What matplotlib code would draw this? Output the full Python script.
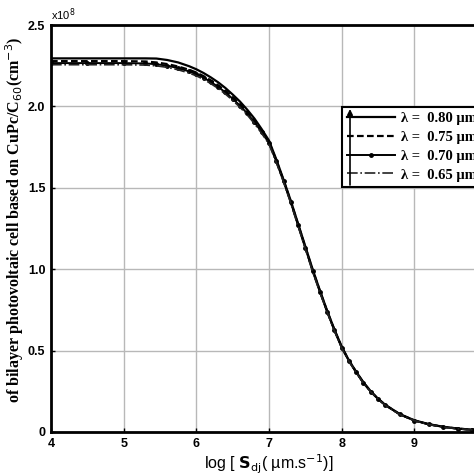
import matplotlib
matplotlib.use("Agg")
import matplotlib.pyplot as plt

# log S_dj values
x_vals = [4.0, 4.5, 5.0, 5.3, 5.45, 5.6, 5.75, 5.9,
          6.0, 6.1, 6.2, 6.3, 6.4, 6.5, 6.6, 6.7, 6.8, 6.9, 7.0, 7.1, 7.2, 7.3, 7.4,
          7.5, 7.6, 7.7, 7.8, 7.9, 8.0, 8.1, 8.2, 8.3, 8.4, 8.5, 8.6,
          8.8, 9.0, 9.2, 9.4, 9.6, 9.8, 10.0]
# generation rate (x1e8 cm^-3)
g_080 = [2.295, 2.295, 2.295, 2.295, 2.294, 2.285, 2.27, 2.247,
         2.228, 2.205, 2.178, 2.148, 2.113, 2.073, 2.03, 1.98, 1.925, 1.86, 1.79, 1.675, 1.55,
         1.42, 1.28, 1.14, 1.00, 0.87, 0.745, 0.63, 0.525, 0.44, 0.37, 0.305, 0.25, 0.205, 0.167,
         0.11, 0.072, 0.048, 0.032, 0.021, 0.014, 0.009]
g_075 = [2.278, 2.278, 2.278, 2.276, 2.27, 2.26, 2.245, 2.225,
         2.208, 2.186, 2.16, 2.13, 2.096, 2.057, 2.015, 1.966, 1.912, 1.85, 1.782, 1.668, 1.545,
         1.415, 1.275, 1.135, 0.995, 0.866, 0.742, 0.627, 0.522, 0.438, 0.368, 0.303, 0.249, 0.204, 0.166,
         0.109, 0.071, 0.047, 0.031, 0.021, 0.014, 0.009]
g_070 = [2.266, 2.266, 2.266, 2.264, 2.259, 2.25, 2.235, 2.215,
         2.198, 2.176, 2.15, 2.12, 2.086, 2.047, 2.005, 1.957, 1.903, 1.842, 1.775, 1.662, 1.54,
         1.41, 1.27, 1.13, 0.99, 0.862, 0.739, 0.624, 0.519, 0.436, 0.366, 0.301, 0.248, 0.203, 0.165,
         0.108, 0.070, 0.047, 0.031, 0.020, 0.013, 0.009]
g_065 = [2.256, 2.256, 2.256, 2.254, 2.249, 2.24, 2.225, 2.205,
         2.188, 2.166, 2.14, 2.11, 2.076, 2.037, 1.995, 1.948, 1.894, 1.834, 1.768, 1.656, 1.535,
         1.405, 1.265, 1.125, 0.985, 0.858, 0.736, 0.621, 0.516, 0.434, 0.364, 0.299, 0.247, 0.202, 0.164,
         0.107, 0.070, 0.046, 0.030, 0.020, 0.013, 0.009]
labels = ["λ =  0.80 µm", "λ =  0.75 µm", "λ =  0.70 µm", "λ =  0.65 µm"]
x_ticks = [4, 5, 6, 7, 8, 9]
y_ticks = [0, 0.5, 1.0, 1.5, 2.0, 2.5]
y_ticklabels = ["0", "0.5", "1.0", "1.5", "2.0", "2.5"]

fig = plt.figure(figsize=(4.74, 4.74), dpi=100)
ax = fig.add_axes([51/474, 42/474, 436/474, 407/474])

ax.plot(x_vals, g_080, color="black", lw=1.6, ls="-", label=labels[0])
ax.plot(x_vals, g_075, color="black", lw=1.6, ls=(0, (3, 1.5)), label=labels[1])
ax.plot(x_vals, g_070, color="black", lw=1.4, ls="-", marker="o", ms=2.5, label=labels[2])
ax.plot(x_vals, g_065, color="#222222", lw=1.2, ls="-.", label=labels[3])

ax.set_xlim(4, 10)
ax.set_ylim(0, 2.5)
ax.set_xticks(x_ticks + [10])
ax.set_xticklabels([str(t) for t in x_ticks] + [""])
ax.set_yticks(y_ticks)
ax.set_yticklabels(y_ticklabels)
ax.grid(True, color="#b8b8b8", lw=1.0)
ax.set_axisbelow(True)
for sp in ax.spines.values():
    sp.set_linewidth(2.0)
ax.tick_params(direction="in", length=3, width=1, pad=4)
for lab in ax.get_xticklabels() + ax.get_yticklabels():
    lab.set_fontfamily("Liberation Sans")
    lab.set_fontweight("bold")
    lab.set_fontsize(9)

fig.text(51/474, 1 - 15/474, r"x10$^{8}$", fontsize=8, family="Liberation Sans",
         ha="left", va="center")

ax.set_xlabel(r"log [ $\mathbf{S}_{\mathrm{dj}}$( µm.s$^{-1}$)]", fontsize=11.5,
              family="Liberation Sans", labelpad=2)
fig.text(15/474, 1 - 220/474,
         r"of bilayer photovoltaic cell based on CuPc/C$_{60}$(cm$^{-3}$)",
         rotation=90, ha="center", va="center", fontsize=11.5,
         family="Liberation Serif", fontweight="bold")

leg = ax.legend(loc="upper left", bbox_to_anchor=(342/474, 1 - 107/474),
                bbox_transform=fig.transFigure, frameon=True, fancybox=False,
                edgecolor="black", handlelength=3.3, handletextpad=0.4,
                borderpad=0.35, labelspacing=0.38, borderaxespad=0,
                prop={"family": "Liberation Serif", "weight": "bold", "size": 10.5})
leg.get_frame().set_linewidth(1.5)
leg.get_frame().set_alpha(1)
leg.set_zorder(5)

ax.annotate("", xy=(350/474, 1 - 109/474), xytext=(350/474, 1 - 185/474),
            xycoords="figure fraction", textcoords="figure fraction",
            arrowprops=dict(arrowstyle="-|>", mutation_scale=8, lw=1.2, color="black",
                            shrinkA=0, shrinkB=0),
            annotation_clip=False, zorder=10)

fig.savefig("out.png", dpi=100)
